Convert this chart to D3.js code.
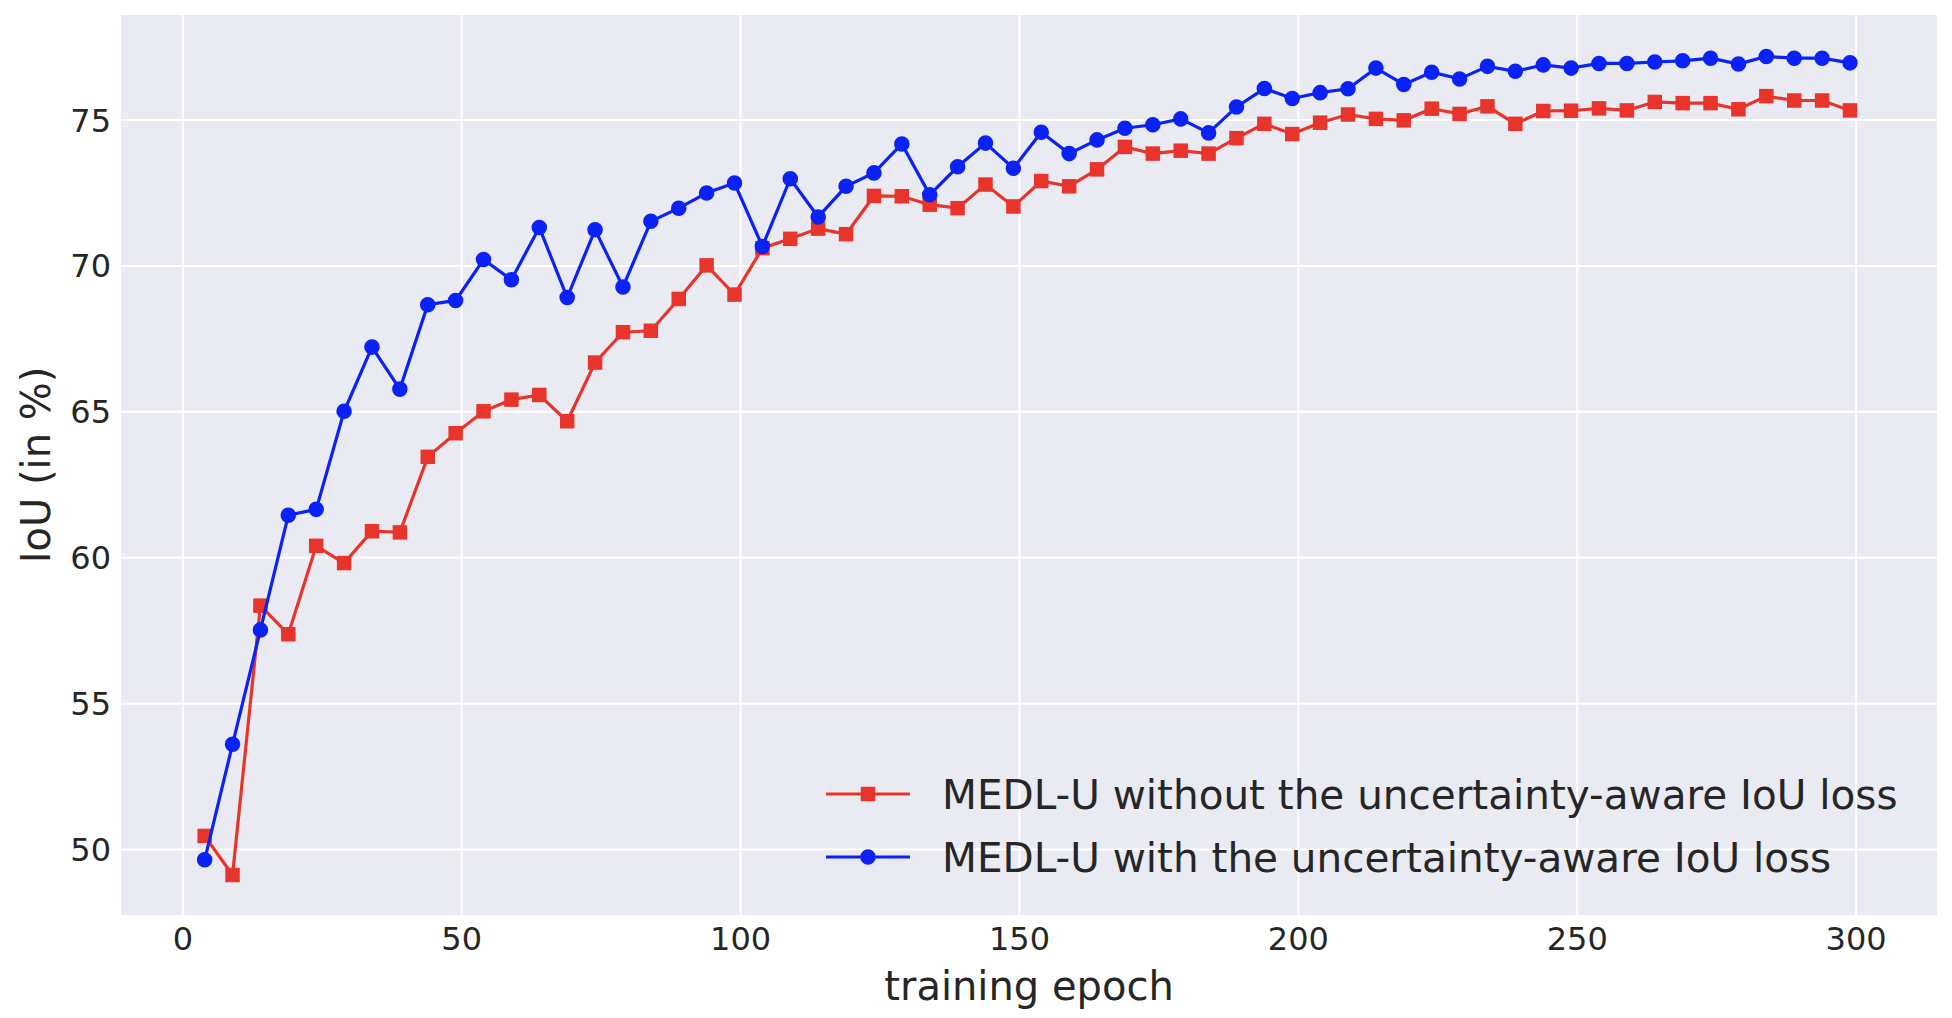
<!DOCTYPE html>
<html>
<head>
<meta charset="utf-8">
<script src="https://cdn.jsdelivr.net/npm/d3@7"></script>
<style>
  body { margin: 0; background: #ffffff; }
  svg text { font-family: "DejaVu Sans", sans-serif; fill: #262626; }
</style>
</head>
<body>
<div id="chart"></div>
<script>
var epochs = [4, 9, 14, 19, 24, 29, 34, 39, 44, 49,
              54, 59, 64, 69, 74, 79, 84, 89, 94, 99,
              104, 109, 114, 119, 124, 129, 134, 139, 144, 149,
              154, 159, 164, 169, 174, 179, 184, 189, 194, 199,
              204, 209, 214, 219, 224, 229, 234, 239, 244, 249,
              254, 259, 264, 269, 274, 279, 284, 289, 294, 299];

var withoutLoss = [50.45, 49.11, 58.34, 57.36, 60.39, 59.80, 60.89, 60.85, 63.44, 64.25,
                   65.00, 65.40, 65.56, 64.66, 66.67, 67.71, 67.76, 68.85, 70.00, 69.00,
                   70.59, 70.91, 71.26, 71.07, 72.38, 72.37, 72.08, 71.96, 72.77, 72.02,
                   72.89, 72.71, 73.29, 74.06, 73.83, 73.93, 73.83, 74.36, 74.85, 74.50,
                   74.89, 75.17, 75.02, 74.97, 75.37, 75.19, 75.45, 74.85, 75.29, 75.30,
                   75.38, 75.31, 75.60, 75.56, 75.56, 75.35, 75.80, 75.65, 75.65, 75.31];

var withLoss = [49.63, 53.59, 57.51, 61.44, 61.64, 65.00, 67.20, 65.76, 68.65, 68.80,
                70.20, 69.51, 71.30, 68.90, 71.22, 69.26, 71.51, 71.96, 72.48, 72.82,
                70.65, 72.97, 71.66, 72.71, 73.17, 74.16, 72.42, 73.38, 74.19, 73.33,
                74.56, 73.83, 74.30, 74.70, 74.82, 75.02, 74.54, 75.43, 76.06, 75.72,
                75.92, 76.05, 76.76, 76.20, 76.62, 76.39, 76.82, 76.65, 76.87, 76.76,
                76.92, 76.92, 76.97, 77.01, 77.10, 76.90, 77.16, 77.10, 77.10, 76.94];

var xTicks = [0, 50, 100, 150, 200, 250, 300];
var yTicks = [50, 55, 60, 65, 70, 75];

var seriesNames = ["MEDL-U without the uncertainty-aware IoU loss",
                   "MEDL-U with the uncertainty-aware IoU loss"];

var width = 1952, height = 1018;
var plot = {left: 121, right: 1937, top: 15, bottom: 915};
var red = "#e8342a", blue = "#0a22f8";

var svg = d3.select("#chart").append("svg")
    .attr("width", width)
    .attr("height", height);

var x = d3.scaleLinear()
    .domain([-11, 314.6])
    .range([plot.left, plot.right]);

var y = d3.scaleLinear()
    .domain([47.74, 78.58])
    .range([plot.bottom, plot.top]);

// background
svg.append("rect")
    .attr("x", plot.left)
    .attr("y", plot.top)
    .attr("width", plot.right - plot.left)
    .attr("height", plot.bottom - plot.top)
    .attr("fill", "#eaeaf2");

// grid via axes
var xGrid = svg.append("g")
    .attr("transform", "translate(0," + plot.bottom + ")")
    .call(d3.axisBottom(x).tickValues(xTicks).tickSize(-(plot.bottom - plot.top)).tickFormat(""));
var yGrid = svg.append("g")
    .attr("transform", "translate(" + plot.left + ",0)")
    .call(d3.axisLeft(y).tickValues(yTicks).tickSize(-(plot.right - plot.left)).tickFormat(""));
svg.selectAll(".domain").remove();
svg.selectAll(".tick line").attr("stroke", "#ffffff").attr("stroke-width", 2);

// tick labels
var xAxis = svg.append("g")
    .attr("transform", "translate(0," + plot.bottom + ")")
    .call(d3.axisBottom(x).tickValues(xTicks).tickSize(0).tickPadding(0));
xAxis.select(".domain").remove();
xAxis.selectAll("text")
    .attr("y", 35)
    .attr("dy", 0)
    .style("font-size", "32px")
    .style("font-family", "DejaVu Sans");

var yAxis = svg.append("g")
    .attr("transform", "translate(" + plot.left + ",0)")
    .call(d3.axisLeft(y).tickValues(yTicks).tickSize(0).tickPadding(0));
yAxis.select(".domain").remove();
yAxis.selectAll("text")
    .attr("x", -10)
    .attr("dy", "0.36em")
    .style("font-size", "32px")
    .style("font-family", "DejaVu Sans");

// axis titles
svg.append("text")
    .attr("x", (plot.left + plot.right) / 2)
    .attr("y", 1000)
    .attr("text-anchor", "middle")
    .style("font-size", "40px")
    .text("training epoch");

svg.append("text")
    .attr("transform", "translate(50," + ((plot.top + plot.bottom) / 2) + ") rotate(-90)")
    .attr("text-anchor", "middle")
    .style("font-size", "40px")
    .text("IoU (in %)");

var line = d3.line()
    .x(function(d, i) { return x(epochs[i]); })
    .y(function(d) { return y(d); });

function drawSeries(vals, color, shape) {
    svg.append("path")
        .datum(vals)
        .attr("d", line)
        .attr("fill", "none")
        .attr("stroke", color)
        .attr("stroke-width", 3.2);

    svg.append("g").selectAll("path")
        .data(vals)
        .enter().append("path")
        .attr("transform", function(d, i) { return "translate(" + x(epochs[i]) + "," + y(d) + ")"; })
        .attr("d", d3.symbol().type(shape).size(shape === d3.symbolSquare ? 210 : 190))
        .attr("fill", color);
}

drawSeries(withoutLoss, red, d3.symbolSquare);
drawSeries(withLoss, blue, d3.symbolCircle);

// legend
var legend = svg.append("g");
var legendRows = [
    {name: seriesNames[0], color: red, shape: d3.symbolSquare, y: 794},
    {name: seriesNames[1], color: blue, shape: d3.symbolCircle, y: 857}
];
legendRows.forEach(function(r) {
    legend.append("line")
        .attr("x1", 826).attr("x2", 910)
        .attr("y1", r.y).attr("y2", r.y)
        .attr("stroke", r.color)
        .attr("stroke-width", 3.2);
    legend.append("path")
        .attr("transform", "translate(868," + r.y + ")")
        .attr("d", d3.symbol().type(r.shape).size(r.shape === d3.symbolSquare ? 210 : 190))
        .attr("fill", r.color);
    legend.append("text")
        .attr("x", 942)
        .attr("y", r.y)
        .attr("dy", "0.36em")
        .style("font-size", "40.5px")
        .text(r.name);
});
</script>
</body>
</html>
